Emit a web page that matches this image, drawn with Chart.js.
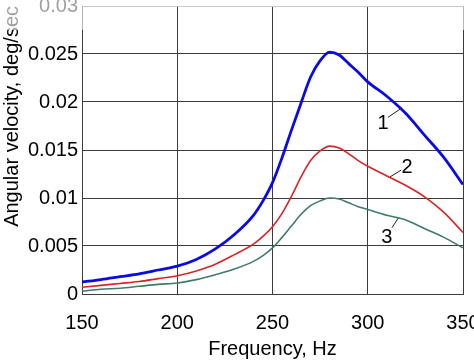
<!DOCTYPE html>
<html>
<head>
<meta charset="utf-8">
<script src="https://cdn.jsdelivr.net/npm/chart.js@4"></script>
<style>
  html, body { margin: 0; padding: 0; background: #fff; }
  #wrap { width: 474px; height: 361px; }
</style>
</head>
<body>
<div id="wrap"><canvas id="chart" width="474" height="361"></canvas></div>
<script>
// frequency points, Hz
const freqs = [150, 160, 170, 180, 190, 200, 210, 220, 230, 240, 245, 250, 255, 260, 265, 270, 275, 280, 285, 290, 295, 300, 310, 320, 330, 340, 350];

// angular velocity, deg/sec
const curve1 = [0.00125, 0.0015, 0.0018, 0.0021, 0.0025, 0.0029, 0.0036, 0.0047, 0.0062, 0.0082, 0.0097, 0.0116, 0.0142, 0.0171, 0.0199, 0.0226, 0.0243, 0.0252, 0.0249, 0.0240, 0.0231, 0.0221, 0.0206, 0.0188, 0.0165, 0.0142, 0.0114];
const curve2 = [0.0007, 0.0009, 0.0011, 0.0013, 0.0016, 0.0019, 0.0024, 0.0031, 0.0041, 0.0052, 0.0060, 0.0070, 0.0084, 0.0102, 0.0122, 0.0139, 0.0149, 0.0154, 0.0152, 0.0146, 0.0139, 0.0133, 0.0123, 0.0113, 0.0101, 0.0085, 0.0064];
const curve3 = [0.0003, 0.0005, 0.0006, 0.0008, 0.0010, 0.00115, 0.0015, 0.0020, 0.0026, 0.0034, 0.0040, 0.0048, 0.0059, 0.0071, 0.0083, 0.0092, 0.0097, 0.0100, 0.0099, 0.0095, 0.0091, 0.0088, 0.0082, 0.0077, 0.0068, 0.0059, 0.0048];

const xTicks = [150, 200, 250, 300, 350];
const yTickLabels = ['0', '0.005', '0.01', '0.015', '0.02', '0.025', '0.03'];

// curve number labels: text position and leader line, in data units
const curveNames = ['1', '2', '3'];
const nameAt = [[308, 0.0178], [320.6, 0.0132], [310, 0.0059]];
const leaderFrom = [[310.6, 0.0184], [311.7, 0.0122], [312.7, 0.0069]];
const leaderTo = [[318, 0.0194], [317.5, 0.0129], [316, 0.0079]];

const toPoints = (ys) => freqs.map((f, i) => ({ x: f, y: ys[i] }));

// draws the 1/2/3 callouts next to the curves
const curveLabels = {
    id: 'curveLabels',
    afterDatasetsDraw(chart) {
        const { ctx, scales: { x, y } } = chart;
        ctx.save();
        ctx.strokeStyle = '#222';
        ctx.lineWidth = 1;
        ctx.fillStyle = '#000';
        ctx.font = '20px "Liberation Sans", Arial, sans-serif';
        ctx.textAlign = 'center';
        ctx.textBaseline = 'middle';
        curveNames.forEach((name, i) => {
            ctx.beginPath();
            ctx.moveTo(x.getPixelForValue(leaderFrom[i][0]), y.getPixelForValue(leaderFrom[i][1]));
            ctx.lineTo(x.getPixelForValue(leaderTo[i][0]), y.getPixelForValue(leaderTo[i][1]));
            ctx.stroke();
            ctx.fillText(name, x.getPixelForValue(nameAt[i][0]), y.getPixelForValue(nameAt[i][1]));
        });
        ctx.restore();
    }
};

// the original scan is washed out along the top edge, left of and right of the grid
const topFade = {
    id: 'topFade',
    afterDraw(chart) {
        const { ctx, chartArea } = chart;
        const fadeY = chart.scales.y.getPixelForValue(0.0275);
        ctx.save();
        ctx.fillStyle = 'rgba(255,255,255,0.62)';
        ctx.fillRect(0, 0, chartArea.left + 1, fadeY);
        ctx.fillRect(chartArea.right - 1, 0, chart.width - chartArea.right + 1, fadeY);
        ctx.restore();
    }
};

const gridDark = '#3c3c3c';

const ctx = document.getElementById('chart').getContext('2d');
new Chart(ctx, {
    type: 'line',
    data: {
        datasets: [
            { label: '1', data: toPoints(curve1), borderColor: '#0a0ae6', borderWidth: 2.8, pointRadius: 0, cubicInterpolationMode: 'monotone', fill: false },
            { label: '2', data: toPoints(curve2), borderColor: '#d82424', borderWidth: 1.6, pointRadius: 0, cubicInterpolationMode: 'monotone', fill: false },
            { label: '3', data: toPoints(curve3), borderColor: '#3f7b6c', borderWidth: 1.6, pointRadius: 0, cubicInterpolationMode: 'monotone', fill: false }
        ]
    },
    options: {
        responsive: false,
        animation: false,
        layout: { padding: { top: 6, right: 11, bottom: 0, left: 0 } },
        plugins: {
            legend: { display: false },
            tooltip: { enabled: false }
        },
        scales: {
            x: {
                type: 'linear',
                min: 150,
                max: 350,
                afterBuildTicks: (scale) => { scale.ticks = xTicks.map(v => ({ value: v })); },
                afterFit: (scale) => {
                    scale.height = 67;
                    scale.paddingLeft = 0;
                    scale.paddingRight = 0;
                },
                grid: { color: gridDark, lineWidth: 1, drawTicks: false },
                border: { color: gridDark, width: 1 },
                ticks: {
                    color: '#000',
                    padding: 17,
                    maxRotation: 0,
                    font: { family: '"Liberation Sans", Arial, sans-serif', size: 20 }
                },
                title: {
                    display: true,
                    text: 'Frequency, Hz',
                    color: '#000',
                    padding: { top: 0, bottom: 0 },
                    font: { family: '"Liberation Sans", Arial, sans-serif', size: 20 }
                }
            },
            y: {
                min: 0,
                max: 0.03,
                ticks: {
                    stepSize: 0.005,
                    padding: 4,
                    color: '#000',
                    callback: (v, i) => yTickLabels[i],
                    font: { family: '"Liberation Sans", Arial, sans-serif', size: 20 }
                },
                afterFit: (scale) => {
                    scale.width = 82;
                    scale.paddingTop = 0;
                    scale.paddingBottom = 0;
                },
                grid: {
                    color: (c) => (c.index === yTickLabels.length - 1 ? '#c8c8c8' : gridDark),
                    lineWidth: 1,
                    drawTicks: false
                },
                border: { color: gridDark, width: 1 },
                title: {
                    display: true,
                    text: 'Angular velocity, deg/sec',
                    align: 'end',
                    color: '#000',
                    padding: { top: 0, bottom: 0 },
                    font: { family: '"Liberation Sans", Arial, sans-serif', size: 20 }
                }
            }
        }
    },
    plugins: [curveLabels, topFade]
});
</script>
</body>
</html>
